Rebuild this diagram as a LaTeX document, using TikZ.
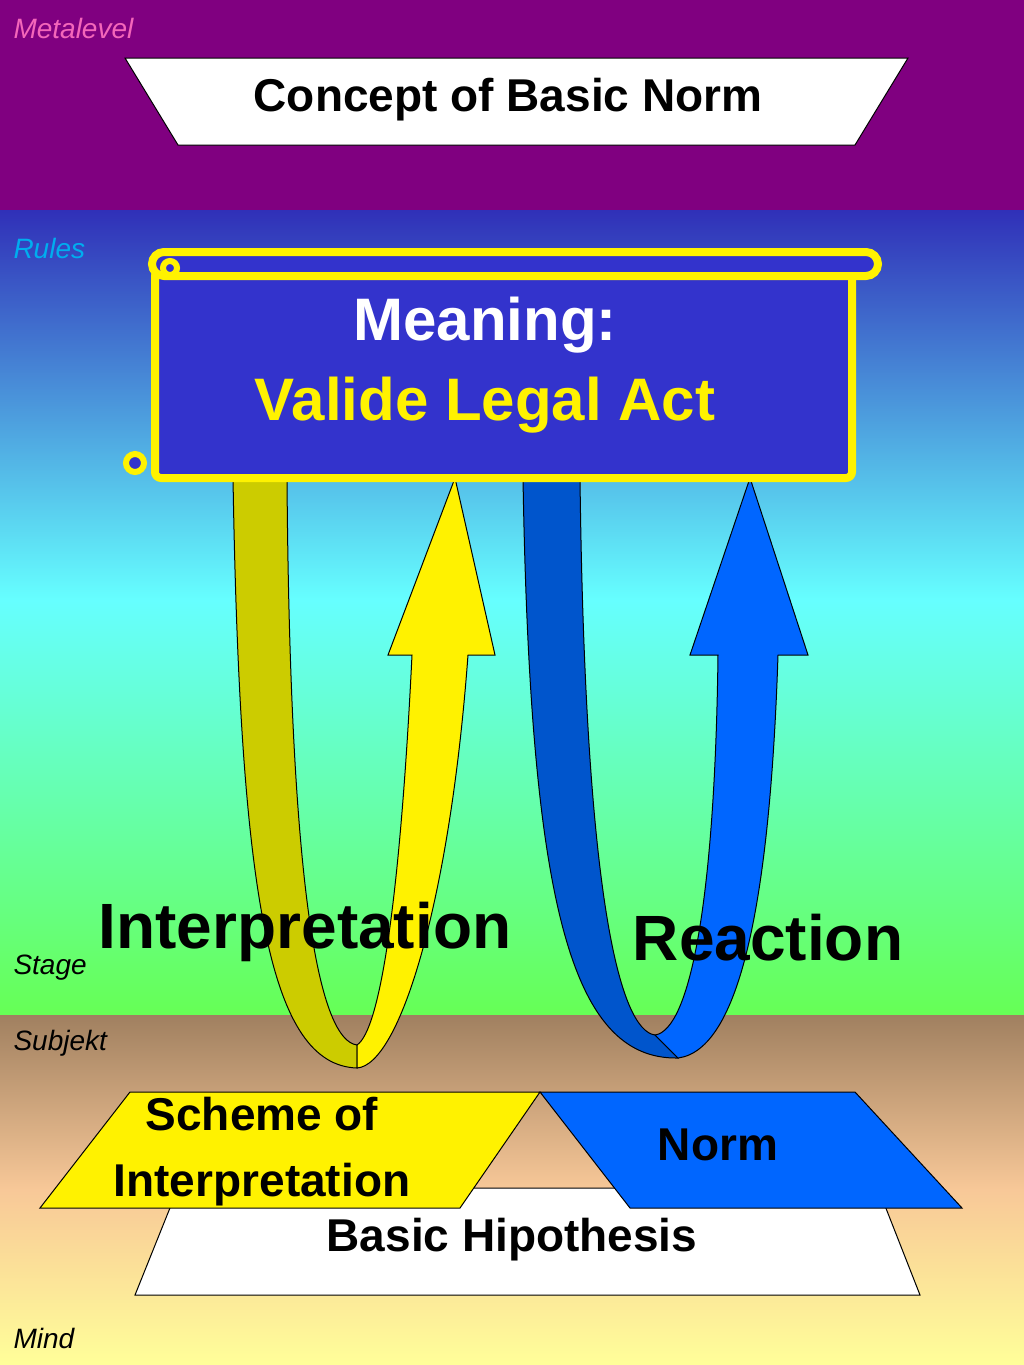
\documentclass[tikz,border=0pt]{standalone}
\usepackage{fontspec}
\setmainfont{Liberation Sans}
\usetikzlibrary{positioning}
\definecolor{metapurple}{HTML}{800080}
\definecolor{rulesblue}{HTML}{3030B8}
\definecolor{skycyan}{HTML}{66FFFF}
\definecolor{stagegreen}{HTML}{66FF55}
\definecolor{subjbrown}{HTML}{A08060}
\definecolor{peach}{HTML}{F8C898}
\definecolor{mindyellow}{HTML}{FFFF99}
\definecolor{scrollblue}{HTML}{3333CC}
\definecolor{darkyellow}{HTML}{CCCC00}
\definecolor{darkblue}{HTML}{0055CC}
\definecolor{normblue}{HTML}{0066FF}
\begin{document}
\begin{tikzpicture}[x=1pt,y=-1pt,
    band/.style={anchor=west,font=\itshape\fontsize{28}{30}\selectfont},
    plate/.style={draw=black,line width=1pt},
    big/.style={font=\bfseries\fontsize{46}{52}\selectfont,align=center},
    huge/.style={font=\bfseries\fontsize{64}{70}\selectfont}
  ]
  \useasboundingbox (0,0) rectangle (1024,1365);

  % background bands
  \fill[metapurple] (0,0) rectangle (1024,210);
  \shade[top color=rulesblue,bottom color=skycyan] (0,210) rectangle (1024,600);
  \shade[top color=skycyan,bottom color=stagegreen] (0,600) rectangle (1024,1015);
  \shade[top color=subjbrown,bottom color=peach] (0,1015) rectangle (1024,1190);
  \shade[top color=peach,bottom color=mindyellow] (0,1190) rectangle (1024,1365);

  \node[band,text=magenta!60] (metalevel) at (10,28) {Metalevel};
  \node[band,text=cyan] (rules) at (10,248) {Rules};
  \node[band] (stage) at (10,968) {Stage};
  \node[band] (subjekt) at (10,1043) {Subjekt};
  \node[band] (mind) at (10,1338) {Mind};

  % concept of basic norm
  \filldraw[plate,fill=white] (125,58) -- (908,58) -- (855,145) -- (178,145) -- cycle;
  \node[big] (concept) at (508,100) {Concept of Basic Norm};

  % yellow arrow
  \filldraw[plate,fill=darkyellow] (233,478) -- (287,478)
    .. controls (290,900) and (320,1040) .. (357,1045)
    -- (357,1068) .. controls (270,1065) and (240,900) .. (233,478) -- cycle;
  \filldraw[plate,fill=yellow] (357,1068) .. controls (400,1065) and (450,900) .. (468,655)
    -- (495,655) -- (455,478) -- (388,655) -- (412,655)
    .. controls (400,900) and (380,1030) .. (357,1045) -- cycle;

  % blue arrow
  \filldraw[plate,fill=darkblue] (523,478) -- (580,478)
    .. controls (585,900) and (620,1030) .. (655,1035)
    -- (678,1058) .. controls (570,1060) and (530,900) .. (523,478) -- cycle;
  \filldraw[plate,fill=normblue] (678,1058) .. controls (740,1050) and (770,900) .. (778,655)
    -- (808,655) -- (750,478) -- (690,655) -- (718,655)
    .. controls (715,900) and (690,1030) .. (655,1035) -- cycle;

  % scroll
  \filldraw[draw=yellow,line width=8pt,fill=scrollblue,rounded corners=6pt]
    (155,270) rectangle (852,478);
  \filldraw[draw=yellow,line width=8pt,fill=scrollblue,rounded corners=12pt]
    (152,252) rectangle (878,276);
  \draw[yellow,line width=6pt] (170,268) circle (7);
  \filldraw[draw=yellow,line width=6pt,fill=scrollblue] (135,463) circle (9);
  \node[big,text=white,font=\bfseries\fontsize{60}{66}\selectfont] (meaning) at (485,325) {Meaning:};
  \node[big,text=yellow,font=\bfseries\fontsize{60}{66}\selectfont] (legal) at (485,405) {Valide Legal Act};

  \node[huge] (interp) at (305,932) {Interpretation};
  \node[huge] (reaction) at (768,938) {Reaction};

  % bottom shapes
  \filldraw[plate,fill=white] (178,1188) -- (878,1188) -- (920,1295) -- (135,1295) -- cycle;
  \node[big] (hypo) at (512,1240) {Basic Hipothesis};
  \filldraw[plate,fill=yellow] (130,1092) -- (540,1092) -- (460,1208) -- (40,1208) -- cycle;
  \node[big,font=\bfseries\fontsize{46}{66}\selectfont] (scheme) at (262,1152) {Scheme of\\Interpretation};
  \filldraw[plate,fill=normblue] (540,1092) -- (855,1092) -- (962,1208) -- (630,1208) -- cycle;
  \node[big] (norm) at (718,1145) {Norm};
\end{tikzpicture}
\end{document}
